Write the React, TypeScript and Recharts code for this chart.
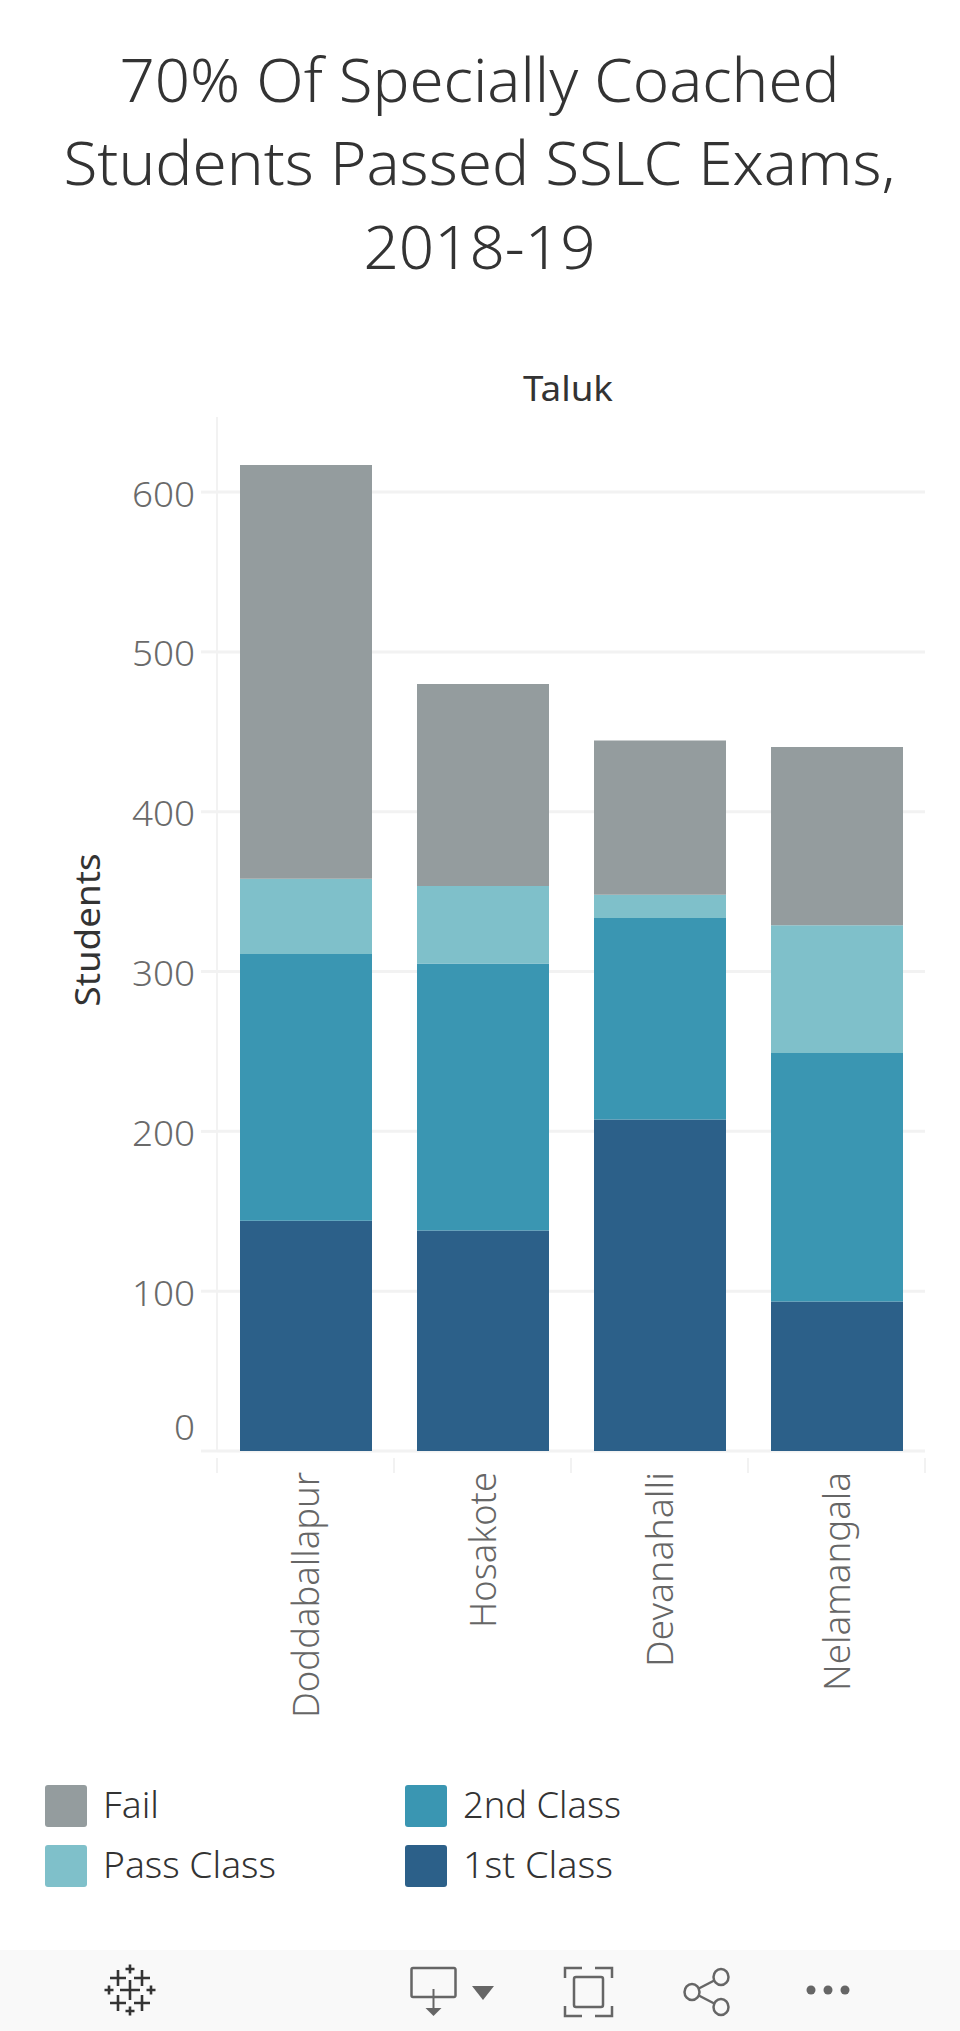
import React from "react";
import { BarChart, Bar, XAxis, YAxis, CartesianGrid, Legend } from "recharts";

const taluks = ["Doddaballapur", "Hosakote", "Devanahalli", "Nelamangala"];
const firstClass = [144, 138, 207.5, 93.5];
const secondClass = [167, 167, 126, 155.5];
const passClass = [47, 48.5, 14.5, 80];
const fail = [259, 126.5, 96.5, 111.5];
const yTicks = [0, 100, 200, 300, 400, 500, 600];

const rows = taluks.map((taluk, i) => ({
  taluk,
  first: firstClass[i],
  second: secondClass[i],
  pass: passClass[i],
  fail: fail[i],
}));

const C = { fail: "#949c9e", pass: "#7fc0ca", second: "#3a96b2", first: "#2c6089" };
const FONT = "'Noto Sans', Lato, sans-serif";
const labelLength: Record<string, number> = {
  Doddaballapur: 246,
  Hosakote: 156,
  Devanahalli: 195,
  Nelamangala: 219,
};
const BAND = 177;
const GRID = "#f2f2f2";

function XTick({ x, y, payload, index }: any) {
  const left = x - BAND / 2;
  return (
    <g>
      <line x1={left} x2={left} y1={y - 1} y2={y + 14} stroke={GRID} strokeWidth={2} />
      {index === taluks.length - 1 && (
        <line x1={left + BAND} x2={left + BAND} y1={y - 1} y2={y + 14} stroke={GRID} strokeWidth={2} />
      )}
      <text
        transform={`rotate(-90 ${x + 13.5} ${y + 13})`}
        x={x + 13.5}
        y={y + 13}
        textAnchor="end"
        fontFamily={FONT}
        fontWeight={300}
        fontSize={37}
        fill="#666666"
        textLength={labelLength[payload.value]}
        lengthAdjust="spacingAndGlyphs"
      >
        {payload.value}
      </text>
    </g>
  );
}

function YTick({ y, payload }: any) {
  const lift = payload.value === 0 ? -23 : 2.5;
  return (
    <text
      x={195}
      y={y + lift + 12}
      textAnchor="end"
      fontFamily={FONT}
      fontWeight={300}
      fontSize={34}
      fill="#6a6a6a"
      textLength={payload.value === 0 ? 21 : 63}
      lengthAdjust="spacingAndGlyphs"
    >
      {payload.value}
    </text>
  );
}

const legendItems = [
  { label: "Fail", color: C.fail, left: 45, top: 1785, length: 56 },
  { label: "2nd Class", color: C.second, left: 405, top: 1785, length: 158 },
  { label: "Pass Class", color: C.pass, left: 45, top: 1845, length: 173 },
  { label: "1st Class", color: C.first, left: 405, top: 1845, length: 150 },
];

function LegendBox() {
  return (
    <svg width={960} height={2031} style={{ position: "absolute", left: 0, top: 0 }}>
      {legendItems.map((it) => (
        <g key={it.label}>
          <rect x={it.left} y={it.top} width={42} height={42} rx={3} fill={it.color} />
          <text
            x={it.left + 58}
            y={it.top + 33}
            fontFamily={FONT}
            fontWeight={300}
            fontSize={36}
            fill="#333"
            textLength={it.length}
            lengthAdjust="spacingAndGlyphs"
          >
            {it.label}
          </text>
        </g>
      ))}
    </svg>
  );
}

function Toolbar() {
  const ink = "#666";
  const dark = "#333";
  const big = [[130, 1990, 10]];
  const mid = [[118, 1978, 8], [142, 1978, 8], [118, 2003, 8], [142, 2003, 8]];
  const small = [[130, 1969, 4.5], [130, 2011, 4.5], [109, 1990, 4.5], [151, 1990, 4.5]];
  return (
    <svg
      width={960}
      height={2031}
      style={{ position: "absolute", left: 0, top: 0, pointerEvents: "none" }}
    >
      <rect x={0} y={1950} width={960} height={81} fill="#f9f9f9" />
      {[...big, ...mid, ...small].map(([cx, cy, r], i) => (
        <path
          key={i}
          d={`M${cx - r} ${cy}H${cx + r}M${cx} ${cy - r}V${cy + r}`}
          stroke={dark}
          strokeWidth={2.6}
          fill="none"
        />
      ))}
      <path
        d="M433 1997H413a1.5 1.5 0 0 1-1.5-1.5V1969.5a1.5 1.5 0 0 1 1.5-1.5H454a1.5 1.5 0 0 1 1.5 1.5V1995.5a1.5 1.5 0 0 1-1.5 1.5H434"
        stroke={ink}
        strokeWidth={2.5}
        fill="none"
      />
      <path d="M433.5 1989V2010" stroke={ink} strokeWidth={2} />
      <path d="M425.5 2008H441.5L433.5 2016Z" fill={ink} />
      <path d="M472 1986H494L483 2000Z" fill={ink} />
      <path
        d="M565 1978V1968H582M595 1968H612V1978M612 2006V2016H595M582 2016H565V2006"
        stroke={ink}
        strokeWidth={2.5}
        fill="none"
      />
      <rect x={574} y={1977} width={29} height={30} rx={2} stroke={ink} strokeWidth={2.5} fill="none" />
      <path d="M692 1992L721 1977M692 1992L721 2007" stroke={ink} strokeWidth={2.5} />
      {[[692, 1992], [721, 1977], [721, 2007]].map(([cx, cy], i) => (
        <ellipse key={i} cx={cx} cy={cy} rx={7.5} ry={8} fill="#f9f9f9" stroke={ink} strokeWidth={2.5} />
      ))}
      {[811, 828, 845].map((cx) => (
        <circle key={cx} cx={cx} cy={1990} r={4.5} fill={ink} />
      ))}
    </svg>
  );
}

const titleLines = [
  { text: "70% Of Specially Coached", y: 102, length: 720 },
  { text: "Students Passed SSLC Exams,", y: 185, length: 832 },
  { text: "2018-19", y: 269, length: 232 },
];

function Texts() {
  return (
    <svg
      width={960}
      height={2031}
      style={{ position: "absolute", left: 0, top: 0, pointerEvents: "none" }}
    >
      {titleLines.map((l) => (
        <text
          key={l.text}
          x={479.5}
          y={l.y}
          textAnchor="middle"
          fontFamily={FONT}
          fontWeight={300}
          fontSize={60}
          fill="#333"
          textLength={l.length}
          lengthAdjust="spacingAndGlyphs"
        >
          {l.text}
        </text>
      ))}
      <text
        x={568}
        y={401}
        textAnchor="middle"
        fontFamily={FONT}
        fontWeight={400}
        fontSize={34}
        fill="#333"
        textLength={90}
        lengthAdjust="spacingAndGlyphs"
      >
        Taluk
      </text>
      <text
        transform="rotate(-90 100 930)"
        x={100}
        y={930}
        textAnchor="middle"
        fontFamily={FONT}
        fontWeight={400}
        fontSize={34}
        fill="#333"
        textLength={153}
        lengthAdjust="spacingAndGlyphs"
      >
        Students
      </text>
    </svg>
  );
}

export default function App() {
  return (
    <div style={{ position: "absolute", left: 0, top: 0, width: 960, height: 2031, background: "#fff", overflow: "hidden" }}>
      <BarChart
        width={960}
        height={2031}
        data={rows}
        margin={{ top: 417, right: 35, bottom: 0, left: 0 }}
        barSize={132}
      >
        <CartesianGrid vertical={false} stroke={GRID} strokeWidth={3} horizontalValues={yTicks} syncWithTicks />
        <XAxis
          dataKey="taluk"
          height={580}
          interval={0}
          axisLine={false}
          tickLine={false}
          tick={<XTick />}
        />
        <YAxis
          width={217}
          domain={[0, 647]}
          ticks={yTicks}
          axisLine={{ stroke: GRID, strokeWidth: 2 }}
          tickLine={{ stroke: GRID, strokeWidth: 3 }}
          tickSize={16}
          tick={<YTick />}
        />
        <Legend
          content={<LegendBox />}
          wrapperStyle={{ position: "absolute", left: 0, top: 0, width: 960, height: 0, bottom: "auto" }}
        />
        <Bar dataKey="first" name="1st Class" stackId="s" fill={C.first} isAnimationActive={false} />
        <Bar dataKey="second" name="2nd Class" stackId="s" fill={C.second} isAnimationActive={false} />
        <Bar dataKey="pass" name="Pass Class" stackId="s" fill={C.pass} isAnimationActive={false} />
        <Bar dataKey="fail" name="Fail" stackId="s" fill={C.fail} isAnimationActive={false} />
      </BarChart>
      <Texts />
      <Toolbar />
    </div>
  );
}
